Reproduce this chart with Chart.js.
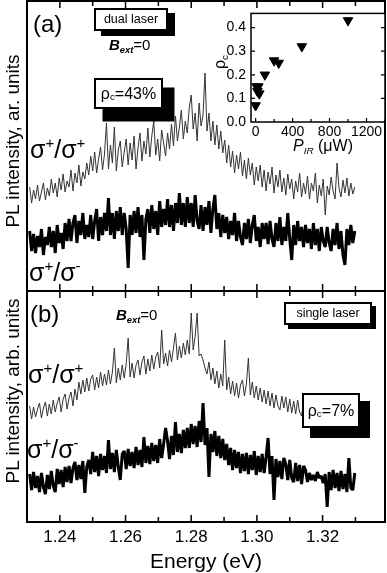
<!DOCTYPE html>
<html>
<head>
<meta charset="utf-8">
<script src="https://cdn.jsdelivr.net/npm/chart.js@4.4.1/dist/chart.umd.min.js"></script>
<style>
  body { margin: 0; background: #fff; }
  #wrap { position: relative; width: 387px; height: 573px; overflow: hidden;
          font-family: "Liberation Sans", Arial, sans-serif; color: #000; }
  canvas { position: absolute; }
  .t { position: absolute; white-space: nowrap; line-height: 1; }
  .vt { position: absolute; white-space: nowrap; line-height: 1;
        transform: translate(-50%, -50%) rotate(-90deg); }
  .box { position: absolute; box-sizing: border-box; background: #fff;
         border: 2px solid #000; display: flex; align-items: center;
         justify-content: center; white-space: nowrap; line-height: 1; }
  .sub { font-size: 0.62em; position: relative; top: 0.35em; }
  .sup { font-size: 0.6em; position: relative; top: -0.65em; }
</style>
</head>
<body>
<div id="wrap">
  <canvas id="chartA" width="387" height="295" style="left:0;top:0"></canvas>
  <canvas id="chartB" width="387" height="286" style="left:0;top:287px"></canvas>
  <canvas id="inset" width="187" height="160" style="left:200px;top:0"></canvas>

  <div class="vt" style="left:12px;top:141px;font-size:19px">PL intensity, ar. units</div>
  <div class="vt" style="left:12px;top:391px;font-size:19px">PL intensity, arb. units</div>

  <div class="t" style="left:33px;top:12px;font-size:24px">(a)</div>
  <div class="box" style="left:94px;top:8px;width:74px;height:23px;font-size:12.5px;box-shadow:7px 5px 0 #000">dual laser</div>
  <div class="t" style="left:109px;top:37px;font-size:15px"><b><i>B</i></b><span class="sub"><b><i>ext</i></b></span>=0</div>
  <div class="box" style="left:94px;top:78px;width:69px;height:31px;font-size:16px;box-shadow:10px 11px 0 1.5px #000">ρ<span class="sub">c</span>=43%</div>
  <div class="t" style="left:30px;top:137px;font-size:25px">σ<span class="sup">+</span>/σ<span class="sup">+</span></div>
  <div class="t" style="left:29px;top:260px;font-size:25px">σ<span class="sup">+</span>/σ<span class="sup">-</span></div>

  <div class="vt" style="left:220px;top:62px;font-size:16px">ρ<span class="sub">c</span></div>
  <div class="t" style="left:293px;top:138px;font-size:16px"><i>P</i><span class="sub"><i>IR</i></span> (μW)</div>

  <div class="t" style="left:30px;top:302px;font-size:24px">(b)</div>
  <div class="t" style="left:116px;top:307px;font-size:15px"><b><i>B</i></b><span class="sub"><b><i>ext</i></b></span>=0</div>
  <div class="box" style="left:284px;top:302px;width:88px;height:23px;font-size:12.5px;box-shadow:4px 4px 0 #000">single laser</div>
  <div class="box" style="left:302px;top:393px;width:58px;height:35px;font-size:16px;box-shadow:9px 9px 0 1px #000">ρ<span class="sub">c</span>=7%</div>
  <div class="t" style="left:28px;top:362px;font-size:25px">σ<span class="sup">+</span>/σ<span class="sup">+</span></div>
  <div class="t" style="left:27px;top:437px;font-size:25px">σ<span class="sup">+</span>/σ<span class="sup">-</span></div>
</div>

<script>
// energy grid of the spectra (eV)
const energyStart = 1.2308
const energyStep = 0.0006

// (a) dual laser, arbitrary units
const dualCoCirc = [
  104, 88, 101, 92, 106, 90, 99, 108, 91, 103,
  95, 112, 98, 108, 94, 113, 101, 117, 99, 110,
  104, 121, 100, 118, 108, 126, 105, 119, 112, 128,
  116, 135, 120, 139, 118, 132, 144, 121, 137, 168,
  122, 146, 128, 164, 120, 141, 150, 124, 139, 152,
  126, 148, 131, 155, 122, 143, 158, 130, 150, 137,
  163, 134, 155, 170, 136, 152, 130, 161, 148, 135,
  158, 142, 167, 145, 175, 150, 164, 181, 152, 170,
  158, 183, 196, 162, 178, 150, 188, 165, 176, 218,
  160, 178, 150, 170, 146, 166, 142, 160, 138, 151,
  128, 146, 124, 140, 118, 136, 122, 139, 115, 131,
  112, 133, 116, 128, 106, 124, 110, 126, 104, 121,
  100, 119, 107, 124, 98, 116, 104, 121, 99, 113,
  96, 117, 102, 112, 92, 110, 99, 118, 94, 108,
  97, 115, 92, 108, 100, 118, 88, 106, 95, 112,
  76, 105, 96, 114, 100, 92, 128, 103, 94, 111,
  98, 113, 95, 108, 97, 104
]
const dualCrossCirc = [
  60, 40, 57, 38, 55, 44, 62, 36, 54, 46,
  64, 44, 60, 38, 66, 48, 58, 42, 68, 50,
  72, 50, 68, 76, 48, 70, 56, 78, 52, 66,
  54, 76, 52, 70, 82, 50, 74, 56, 78, 60,
  93, 56, 78, 52, 80, 60, 84, 56, 78, 62,
  23, 76, 56, 80, 58, 84, 54, 76, 31, 72,
  82, 58, 86, 62, 80, 56, 90, 64, 82, 66,
  92, 64, 86, 60, 88, 68, 98, 66, 88, 64,
  94, 68, 88, 64, 96, 70, 62, 86, 60, 84,
  66, 90, 58, 82, 96, 62, 78, 54, 76, 58,
  74, 52, 70, 56, 78, 50, 70, 54, 46, 68,
  52, 72, 48, 66, 76, 50, 64, 44, 68, 52,
  68, 47, 70, 52, 44, 68, 50, 74, 46, 64,
  50, 78, 52, 31, 66, 46, 70, 50, 64, 44,
  66, 48, 62, 42, 68, 46, 62, 40, 64, 50,
  44, 64, 48, 40, 62, 46, 68, 42, 60, 36,
  26, 62, 46, 66, 48, 60
]

// (b) single laser, arbitrary units
const singleCoCirc = [
  116, 103, 115, 105, 113, 119, 104, 114, 120, 106,
  118, 108, 122, 110, 119, 125, 110, 123, 128, 113,
  124, 130, 116, 133, 122, 140, 128, 142, 130, 144,
  131, 143, 147, 132, 145, 134, 150, 136, 148, 137,
  152, 138, 150, 174, 139, 154, 142, 157, 144, 158,
  184, 145, 159, 144, 157, 162, 147, 160, 166, 148,
  163, 151, 167, 153, 165, 170, 154, 192, 158, 169,
  156, 172, 160, 174, 189, 162, 176, 164, 179, 167,
  182, 168, 209, 172, 186, 209, 166, 168, 162, 154,
  148, 160, 142, 154, 138, 151, 134, 148, 136, 182,
  132, 145, 128, 141, 126, 139, 124, 137, 142, 126,
  138, 164, 127, 140, 124, 136, 122, 134, 120, 132,
  118, 131, 116, 129, 114, 127, 116, 112, 126, 114,
  125, 110, 123, 109, 121, 108, 122, 110, 106, 120,
  109, 121, 107, 119, 122, 106, 118, 120, 108, 119,
  107, 120, 109, 106, 121, 108, 119, 107, 118, 109,
  120, 106, 118, 108, 119, 109
]
const singleCrossCirc = [
  48, 32, 50, 34, 46, 30, 49, 35, 28, 47,
  33, 51, 36, 30, 53, 38, 52, 35, 55, 40,
  56, 39, 54, 60, 42, 57, 43, 61, 29, 55,
  62, 48, 70, 50, 66, 46, 68, 52, 66, 49,
  82, 53, 69, 50, 72, 55, 42, 68, 71, 53,
  73, 56, 70, 54, 75, 57, 72, 55, 85, 59,
  76, 58, 79, 61, 77, 59, 83, 64, 78, 94,
  81, 63, 86, 67, 100, 70, 88, 69, 92, 74,
  94, 74, 98, 78, 96, 75, 101, 80, 119, 77,
  94, 45, 88, 70, 91, 66, 86, 64, 83, 62,
  78, 57, 74, 52, 72, 54, 70, 49, 68, 51,
  69, 48, 67, 52, 71, 47, 66, 50, 68, 49,
  65, 84, 48, 66, 22, 63, 45, 61, 43, 64,
  58, 42, 62, 44, 40, 59, 41, 57, 38, 56,
  52, 40, 49, 42, 47, 41, 50, 44, 46, 39,
  48, 15, 50, 32, 52, 34, 49, 31, 51, 33,
  48, 30, 64, 34, 32, 49
]

const energyTicks = [1.23, 1.24, 1.25, 1.26, 1.27, 1.28, 1.29, 1.30, 1.31, 1.32, 1.33]
const energyTickLabels = ['', '1.24', '', '1.26', '', '1.28', '', '1.30', '', '1.32', '']

// inset: circular polarization degree vs IR power
const irPower = [1000, 500, 200, 250, 100, 10, 30, 20, 40, 0]
const rhoC = [0.43, 0.32, 0.26, 0.25, 0.20, 0.15, 0.15, 0.13, 0.12, 0.07]
const powerTicks = [0, 400, 800, 1200]
const powerMinorTicks = [0, 200, 400, 600, 800, 1000, 1200, 1400]
const rhoTicks = [0, 0.1, 0.2, 0.3, 0.4]

const family = '"Liberation Sans", Arial, sans-serif'
Chart.defaults.font.family = family
Chart.defaults.color = '#000'

const toPoints = vals => vals.map((v, i) => ({x: energyStart + i * energyStep, y: v}))

// frame around the plot area with inward tick marks
function makeFrame(cfg) {
  return {
    id: 'frame',
    afterDraw(chart) {
      const {ctx, chartArea: a, scales} = chart
      ctx.save()
      ctx.strokeStyle = '#000'
      ctx.lineWidth = cfg.lineWidth
      ctx.strokeRect(a.left, a.top, a.right - a.left, a.bottom - a.top)
      ctx.lineWidth = cfg.tickWidth
      ctx.beginPath()
      cfg.xTicks.forEach((v, i) => {
        const px = scales.x.getPixelForValue(v)
        const len = cfg.xLens[i]
        ctx.moveTo(px, a.bottom); ctx.lineTo(px, a.bottom - len)
        if (cfg.top) { ctx.moveTo(px, a.top); ctx.lineTo(px, a.top + len) }
      })
      ;(cfg.yTicks || []).forEach(v => {
        const py = scales.y.getPixelForValue(v)
        ctx.moveTo(a.left, py); ctx.lineTo(a.left + cfg.yLen, py)
        ctx.moveTo(a.right, py); ctx.lineTo(a.right - cfg.yLen, py)
      })
      ctx.stroke()
      ctx.restore()
    }
  }
}

const energyLens = energyTickLabels.map(l => l ? 7 : 5)

function spectrumOptions(yMax, padding, xScale) {
  return {
    animation: false,
    responsive: false,
    events: [],
    layout: {padding: padding, autoPadding: false},
    plugins: {legend: {display: false}, tooltip: {enabled: false}},
    elements: {point: {radius: 0}, line: {tension: 0, borderJoinStyle: 'bevel'}},
    scales: {
      x: xScale,
      y: {min: 0, max: yMax, display: false}
    }
  }
}

new Chart(document.getElementById('chartA'), {
  type: 'line',
  data: {
    datasets: [
      {data: toPoints(dualCoCirc), borderColor: '#333', borderWidth: 1},
      {data: toPoints(dualCrossCirc), borderColor: '#000', borderWidth: 3}
    ]
  },
  options: spectrumOptions(290, {left: 27, right: 2, top: 1, bottom: 4},
    {type: 'linear', min: 1.23, max: 1.339, display: false}),
  plugins: [makeFrame({lineWidth: 2, tickWidth: 1.5, xTicks: energyTicks, xLens: energyLens, top: true})]
})

new Chart(document.getElementById('chartB'), {
  type: 'line',
  data: {
    datasets: [
      {data: toPoints(singleCoCirc), borderColor: '#333', borderWidth: 1},
      {data: toPoints(singleCrossCirc), borderColor: '#000', borderWidth: 3}
    ]
  },
  options: spectrumOptions(231, {left: 27, right: 2, top: 4, bottom: 0}, {
    type: 'linear', min: 1.23, max: 1.339,
    afterBuildTicks: s => { s.ticks = energyTicks.map(v => ({value: v})) },
    afterFit: s => { s.height = 51 },
    grid: {display: false, drawTicks: false},
    border: {display: false},
    ticks: {autoSkip: false, maxRotation: 0, padding: 5, font: {size: 17},
            callback: (v, i) => energyTickLabels[i]},
    title: {display: true, text: 'Energy (eV)', font: {size: 21, lineHeight: 1},
            padding: {top: 0, bottom: 0}}
  }),
  plugins: [makeFrame({lineWidth: 2, tickWidth: 1.5, xTicks: energyTicks, xLens: energyLens, top: true})]
})

new Chart(document.getElementById('inset'), {
  type: 'scatter',
  data: {
    datasets: [{
      data: irPower.map((p, i) => ({x: p, y: rhoC[i]})),
      pointStyle: 'triangle', rotation: 180, radius: 5.5,
      backgroundColor: '#000', borderColor: '#000', borderWidth: 1
    }]
  },
  options: {
    animation: false,
    responsive: false,
    events: [],
    layout: {padding: {left: 0, right: 2, top: 7, bottom: 0}, autoPadding: false},
    plugins: {legend: {display: false}, tooltip: {enabled: false}},
    scales: {
      x: {
        type: 'linear', min: -50, max: 1400,
        afterBuildTicks: s => { s.ticks = powerTicks.map(v => ({value: v})) },
        afterFit: s => { s.height = 38 },
        grid: {display: false, drawTicks: false},
        border: {display: false},
        ticks: {autoSkip: false, maxRotation: 0, padding: 2, font: {size: 14},
                callback: v => String(v)}
      },
      y: {
        min: 0, max: 0.46,
        afterBuildTicks: s => { s.ticks = rhoTicks.map(v => ({value: v})) },
        afterFit: s => { s.width = 51 },
        grid: {display: false, drawTicks: false},
        border: {display: false},
        ticks: {padding: 5, font: {size: 14}, callback: v => v.toFixed(1)}
      }
    }
  },
  plugins: [
    {
      id: 'insetBg',
      beforeDraw(chart) {
        const {ctx, chartArea: a} = chart
        ctx.save()
        ctx.fillStyle = '#fff'
        ctx.fillRect(a.left, a.top, a.right - a.left, a.bottom - a.top)
        ctx.restore()
      }
    },
    makeFrame({lineWidth: 1.5, tickWidth: 1.2, xTicks: powerMinorTicks,
               xLens: powerMinorTicks.map(v => v % 400 === 0 ? 4 : 3),
               top: false, yTicks: rhoTicks.slice(1), yLen: 4})
  ]
})
</script>
</body>
</html>
